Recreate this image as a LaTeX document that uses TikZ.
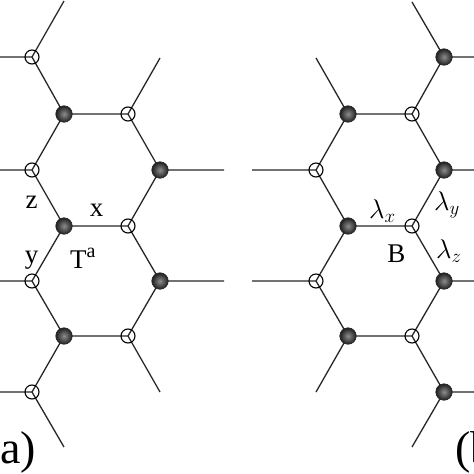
\IfFileExists{fix-cm.sty}{\RequirePackage{fix-cm}}{}
\documentclass[tikz,border=0pt]{standalone}
\usepackage{fontspec}
\setmainfont{Liberation Serif}
\usetikzlibrary{backgrounds}
\begin{document}
\begin{tikzpicture}[x=1pt,y=-1pt,
  opennode/.style={circle, draw=black, line width=1.1pt, minimum size=14pt, inner sep=0pt},
  fillnode/.style={circle, draw=black!85, line width=0.6pt, minimum size=16.5pt, inner sep=0pt, inner color=black!45, outer color=black!88},
  bond/.style={draw=black!85, line width=1.3pt},
  lab/.style={font=\fontsize{27}{30}\selectfont, inner sep=0pt, anchor=base},
  panel/.style={font=\fontsize{46}{50}\selectfont, inner sep=0pt, anchor=base west}]
\useasboundingbox (0,0) rectangle (474,474);
\clip (0,0) rectangle (474,474);
% ---------- left panel (a) ----------
\node[opennode] (LA) at (32,57) {};
\node[opennode] (LB) at (128,114) {};
\node[opennode] (LC) at (32,170) {};
\node[opennode] (LD) at (128,226) {};
\node[opennode] (LE) at (32,281) {};
\node[opennode] (LF) at (128,336) {};
\node[opennode] (LG) at (32,392) {};
\node[fillnode] (LH) at (64,114) {};
\node[fillnode] (LI) at (160,170) {};
\node[fillnode] (LJ) at (64,226) {};
\node[fillnode] (LK) at (160,281) {};
\node[fillnode] (LL) at (64,336) {};
\coordinate (La1) at (64,1);
\coordinate (La2) at (160,58);
\coordinate (La3) at (0,57);
\coordinate (La4) at (0,170);
\coordinate (La5) at (0,281);
\coordinate (La6) at (0,392);
\coordinate (La7) at (224,170);
\coordinate (La8) at (224,281);
\coordinate (La9) at (160,392);
\coordinate (La10) at (64,447);
% ---------- right panel (b) ----------
\node[fillnode] (RA) at (348,114) {};
\node[fillnode] (RB) at (444,57) {};
\node[fillnode] (RC) at (444,170) {};
\node[fillnode] (RD) at (348,226) {};
\node[fillnode] (RE) at (444,281) {};
\node[fillnode] (RF) at (348,336) {};
\node[fillnode] (RG) at (444,392) {};
\node[opennode] (RH) at (412,114) {};
\node[opennode] (RI) at (316,170) {};
\node[opennode] (RJ) at (412,226) {};
\node[opennode] (RK) at (316,281) {};
\node[opennode] (RL) at (412,336) {};
\coordinate (Rb1) at (316,58);
\coordinate (Rb2) at (412,2);
\coordinate (Rb3) at (490,57);
\coordinate (Rb4) at (490,170);
\coordinate (Rb5) at (490,281);
\coordinate (Rb6) at (490,392);
\coordinate (Rb7) at (252,170);
\coordinate (Rb8) at (252,281);
\coordinate (Rb9) at (316,392);
\coordinate (Rb10) at (412,447);
\begin{pgfonlayer}{background}
  \path[bond] (LA.center) -- (LH.center) (LH.center) -- (LB.center) (LH.center) -- (LC.center)
    (LB.center) -- (LI.center) (LC.center) -- (LJ.center) (LI.center) -- (LD.center)
    (LJ.center) -- (LD.center) (LJ.center) -- (LE.center) (LD.center) -- (LK.center)
    (LE.center) -- (LL.center) (LK.center) -- (LF.center) (LL.center) -- (LF.center)
    (LL.center) -- (LG.center);
  \path[bond] (LA.center) -- (La1) (LB.center) -- (La2) (LA.center) -- (La3)
    (LC.center) -- (La4) (LE.center) -- (La5) (LG.center) -- (La6)
    (LI.center) -- (La7) (LK.center) -- (La8) (LF.center) -- (La9) (LG.center) -- (La10);
  \path[bond] (RA.center) -- (RH.center) (RH.center) -- (RB.center) (RH.center) -- (RC.center)
    (RI.center) -- (RA.center) (RI.center) -- (RD.center) (RD.center) -- (RJ.center)
    (RJ.center) -- (RC.center) (RJ.center) -- (RE.center) (RK.center) -- (RD.center)
    (RK.center) -- (RF.center) (RF.center) -- (RL.center) (RL.center) -- (RE.center)
    (RL.center) -- (RG.center);
  \path[bond] (RA.center) -- (Rb1) (RB.center) -- (Rb2) (RB.center) -- (Rb3)
    (RC.center) -- (Rb4) (RE.center) -- (Rb5) (RG.center) -- (Rb6)
    (RI.center) -- (Rb7) (RK.center) -- (Rb8) (RF.center) -- (Rb9) (RG.center) -- (Rb10);
\end{pgfonlayer}
% ---------- labels ----------
\node[lab] (lz) at (31.5,208) {z};
\node[lab] (lx) at (96.5,216) {x};
\node[lab] (ly) at (31.5,263) {y};
\node[lab, anchor=base west] (lT) at (70,268) {T\raisebox{11pt}{\fontsize{20}{22}\selectfont a}};
\node[lab] (lB) at (396.5,262) {B};
\node[lab, anchor=base west] (llx) at (369,218) {$\lambda_x$};
\node[lab, anchor=base west] (lly) at (434,210) {$\lambda_y$};
\node[lab, anchor=base west] (llz) at (436,258) {$\lambda_z$};
\node[panel] (pa) at (-15,463) {(a)};
\node[panel] (pb) at (455,463) {(b)};
\end{tikzpicture}
\end{document}
